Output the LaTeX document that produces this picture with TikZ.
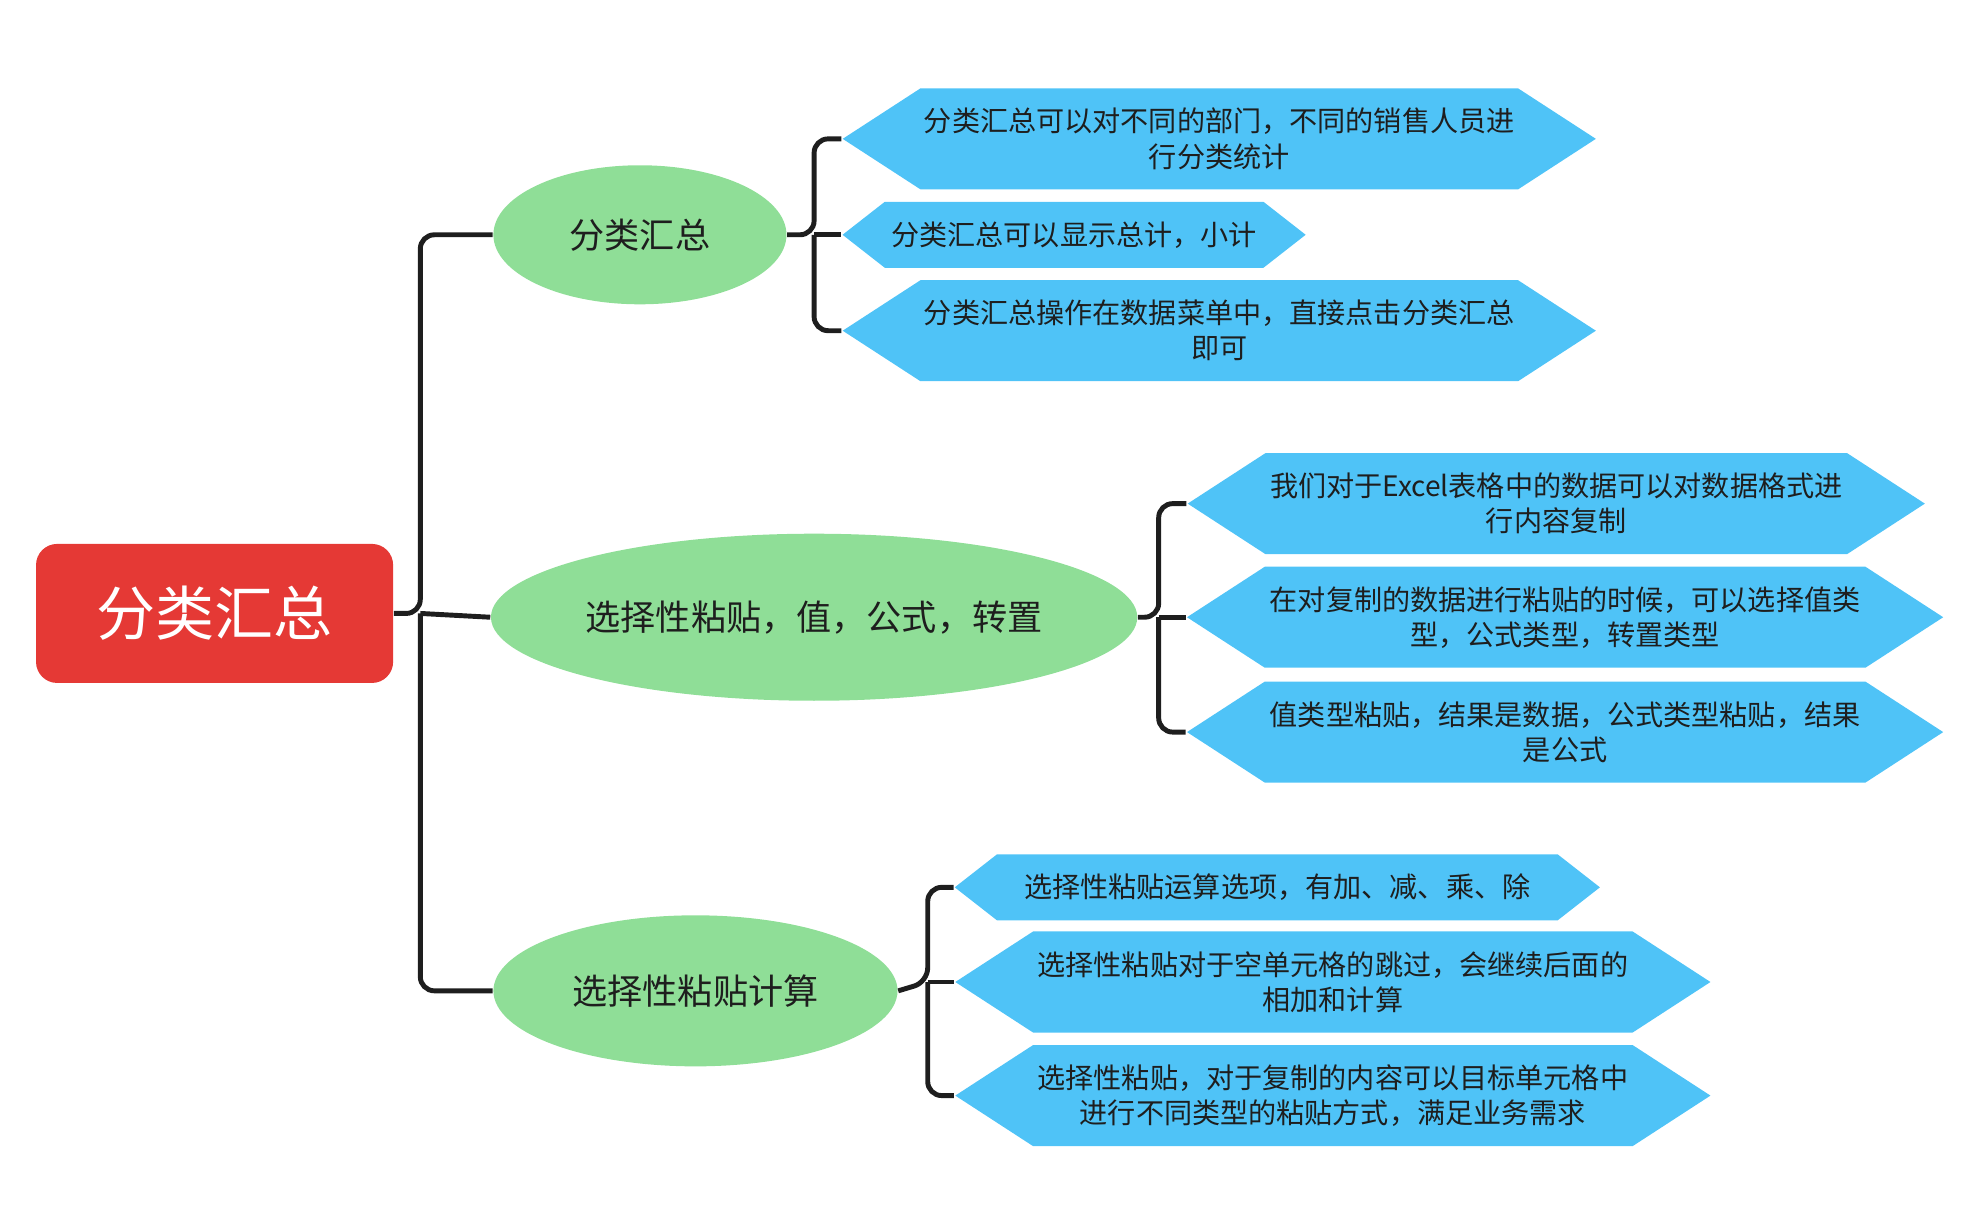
\documentclass[tikz,border=0pt]{standalone}
\usepackage{fontspec}
\setmainfont{Noto Sans CJK SC}
\usetikzlibrary{shapes.symbols, shapes.geometric, positioning}
\definecolor{rootred}{RGB}{229, 57, 53}
\definecolor{topicgreen}{RGB}{143, 222, 151}
\definecolor{leafblue}{RGB}{79, 195, 247}
\definecolor{inkgray}{RGB}{30, 30, 30}
\tikzset{
  rootbox/.style={fill=rootred, rounded corners=6pt, text=white, font=\fontsize{16.8}{20}\selectfont, minimum width=3.57cm, minimum height=1.39cm},
  topic/.style={ellipse, fill=topicgreen, text=inkgray, font=\fontsize{10}{12}\selectfont, inner sep=0pt},
  leaf/.style={signal, signal to=west and east, signal pointer angle=66, fill=leafblue, text=inkgray, align=center, inner sep=0pt, minimum height=1.01cm, font=\fontsize{8}{10}\selectfont},
  smallleaf/.style={leaf, signal pointer angle=76, minimum height=0.66cm},
  conn/.style={draw=inkgray, line width=1.4pt, rounded corners=4pt}
}
\begin{document}
\begin{tikzpicture}[x=0.01262cm, y=-0.01262cm]
  \useasboundingbox (0,0) rectangle (1560,975);
  % root
  \node[rootbox] (root) at (170,486) {分类汇总};
  % topics
  \node[topic, minimum width=2.93cm, minimum height=1.39cm] (sum) at (507,186) {分类汇总};
  \node[topic, minimum width=6.37cm, minimum height=1.67cm] (paste) at (645,489) {选择性粘贴，值，公式，转置};
  \node[topic, minimum width=4.04cm, minimum height=1.51cm] (calc) at (551,785) {选择性粘贴计算};
  % leaves of 分类汇总
  \node[leaf, minimum width=7.53cm] (sumA) at (966,110) {分类汇总可以对不同的部门，不同的销售人员进\\行分类统计};
  \node[smallleaf, minimum width=4.63cm] (sumB) at (851,186) {分类汇总可以显示总计，小计};
  \node[leaf, minimum width=7.53cm] (sumC) at (966,262) {分类汇总操作在数据菜单中，直接点击分类汇总\\即可};
  % leaves of 选择性粘贴
  \node[leaf, minimum width=7.37cm] (pasteA) at (1233,399) {我们对于Excel表格中的数据可以对数据格式进\\行内容复制};
  \node[leaf, minimum width=7.56cm] (pasteB) at (1240,489) {在对复制的数据进行粘贴的时候，可以选择值类\\型，公式类型，转置类型};
  \node[leaf, minimum width=7.56cm] (pasteC) at (1240,580) {值类型粘贴，结果是数据，公式类型粘贴，结果\\是公式};
  % leaves of 选择性粘贴计算
  \node[smallleaf, minimum width=6.45cm] (calcA) at (1012,703) {选择性粘贴运算选项，有加、减、乘、除};
  \node[leaf, minimum width=7.55cm] (calcB) at (1056,778) {选择性粘贴对于空单元格的跳过，会继续后面的\\相加和计算};
  \node[leaf, minimum width=7.55cm] (calcC) at (1056,868) {选择性粘贴，对于复制的内容可以目标单元格中\\进行不同类型的粘贴方式，满足业务需求};
  % connectors
  \coordinate (trunk) at (333,486);
  \draw[conn] (root.east) -- (trunk) |- (sum.west);
  \draw[conn] (trunk) |- (calc.west);
  \draw[conn] (trunk) -- (paste.west);
  \coordinate (sumfork) at (645,186);
  \draw[conn] (sum.east) -- (sumfork) |- (sumA.west);
  \draw[conn] (sumfork) |- (sumC.west);
  \draw[conn] (sumfork) -- (sumB.west);
  \coordinate (pastefork) at (918,489);
  \draw[conn] (paste.east) -- (pastefork) |- (pasteA.west);
  \draw[conn] (pastefork) |- (pasteC.west);
  \draw[conn] (pastefork) -- (pasteB.west);
  \coordinate (calcfork) at (735,778);
  \draw[conn] (calc.east) -- (calcfork) |- (calcA.west);
  \draw[conn] (calcfork) |- (calcC.west);
  \draw[conn] (calcfork) -- (calcB.west);
\end{tikzpicture}
\end{document}
